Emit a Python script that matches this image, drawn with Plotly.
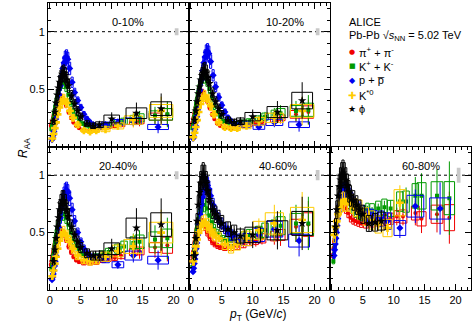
import plotly.graph_objects as go
from plotly.subplots import make_subplots

# ---------------- data ----------------
centralities = ["0-10%", "10-20%", "20-40%", "40-60%", "60-80%"]
norm_unc = [0.03, 0.03, 0.035, 0.045, 0.065]

pi_pt = [0.15, 0.25, 0.35, 0.45, 0.55, 0.65, 0.75, 0.85, 0.95, 1.1, 1.3, 1.5, 1.7, 1.9, 2.2, 2.6,
         3.0, 3.4, 3.8, 4.25, 4.75, 5.5, 6.5, 7.5, 8.5, 9.5, 10.5, 11.5, 13.5, 14.5, 17.0, 19.0]
pi_raa = [
    [0.18, 0.20, 0.22, 0.24, 0.26, 0.28, 0.30, 0.32, 0.34, 0.37, 0.40, 0.42, 0.43, 0.43, 0.41, 0.36,
     0.30, 0.25, 0.21, 0.18, 0.16, 0.145, 0.14, 0.145, 0.16, 0.17, 0.18, 0.19, 0.21, 0.22, 0.26, 0.28],
    [0.19, 0.21, 0.24, 0.26, 0.29, 0.31, 0.34, 0.36, 0.38, 0.41, 0.44, 0.46, 0.47, 0.47, 0.45, 0.40,
     0.34, 0.28, 0.24, 0.20, 0.18, 0.165, 0.16, 0.165, 0.18, 0.19, 0.20, 0.21, 0.23, 0.25, 0.28, 0.30],
    [0.22, 0.25, 0.28, 0.31, 0.34, 0.37, 0.40, 0.42, 0.44, 0.47, 0.50, 0.51, 0.52, 0.51, 0.49, 0.44,
     0.38, 0.33, 0.29, 0.26, 0.245, 0.235, 0.235, 0.24, 0.26, 0.27, 0.28, 0.30, 0.33, 0.34, 0.37, 0.39],
    [0.25, 0.29, 0.33, 0.37, 0.41, 0.45, 0.48, 0.51, 0.53, 0.56, 0.58, 0.59, 0.59, 0.58, 0.55, 0.50,
     0.46, 0.42, 0.40, 0.385, 0.375, 0.37, 0.37, 0.38, 0.40, 0.42, 0.43, 0.45, 0.47, 0.48, 0.55, 0.57],
    [0.30, 0.36, 0.42, 0.48, 0.53, 0.58, 0.62, 0.66, 0.69, 0.72, 0.75, 0.76, 0.76, 0.74, 0.71, 0.67,
     0.63, 0.61, 0.60, 0.59, 0.58, 0.58, 0.59, 0.60, 0.61, 0.62, 0.64, 0.64, 0.67, 0.62, 0.66, 0.63],
]
pi_stat = [0.005, 0.005, 0.005, 0.005, 0.005, 0.005, 0.005, 0.005, 0.005, 0.005, 0.005, 0.005, 0.005,
           0.005, 0.005, 0.005, 0.006, 0.006, 0.006, 0.008, 0.008, 0.01, 0.01, 0.012, 0.02, 0.02, 0.03,
           0.03, 0.04, 0.05, 0.06, 0.09]
pi_syst = [0.07, 0.06, 0.06, 0.06, 0.06, 0.06, 0.06, 0.06, 0.06, 0.06, 0.06, 0.06, 0.06, 0.06, 0.06,
           0.06, 0.06, 0.06, 0.06, 0.06, 0.06, 0.07, 0.07, 0.07, 0.08, 0.08, 0.08, 0.09, 0.09, 0.10,
           0.12, 0.18]

k_pt = [0.25, 0.35, 0.45, 0.55, 0.65, 0.75, 0.85, 0.95, 1.1, 1.3, 1.5, 1.7, 1.9, 2.2, 2.6, 3.0,
        3.4, 3.8, 4.25, 4.75, 5.25, 5.75, 6.5, 7.5, 8.5, 9.5, 11.0, 12.0, 13.5, 14.5, 17.0, 19.0]
k_raa = [
    [0.15, 0.18, 0.21, 0.24, 0.28, 0.31, 0.34, 0.37, 0.41, 0.46, 0.50, 0.53, 0.55, 0.55, 0.52, 0.45,
     0.38, 0.31, 0.26, 0.22, 0.20, 0.185, 0.175, 0.17, 0.18, 0.19, 0.21, 0.22, 0.24, 0.25, 0.27, 0.28],
    [0.16, 0.19, 0.22, 0.26, 0.30, 0.33, 0.37, 0.40, 0.45, 0.50, 0.55, 0.58, 0.60, 0.60, 0.57, 0.50,
     0.42, 0.35, 0.29, 0.25, 0.22, 0.21, 0.20, 0.20, 0.21, 0.22, 0.24, 0.26, 0.28, 0.29, 0.31, 0.32],
    [0.18, 0.22, 0.26, 0.30, 0.34, 0.38, 0.42, 0.46, 0.51, 0.56, 0.61, 0.64, 0.66, 0.66, 0.63, 0.57,
     0.50, 0.43, 0.38, 0.34, 0.31, 0.29, 0.28, 0.29, 0.31, 0.33, 0.36, 0.38, 0.41, 0.42, 0.44, 0.45],
    [0.20, 0.25, 0.30, 0.35, 0.40, 0.45, 0.49, 0.53, 0.58, 0.64, 0.69, 0.72, 0.74, 0.74, 0.71, 0.65,
     0.59, 0.53, 0.49, 0.46, 0.44, 0.43, 0.43, 0.44, 0.46, 0.48, 0.50, 0.52, 0.54, 0.56, 0.58, 0.58],
    [0.25, 0.31, 0.37, 0.43, 0.49, 0.55, 0.60, 0.65, 0.71, 0.77, 0.82, 0.85, 0.86, 0.85, 0.81, 0.76,
     0.72, 0.69, 0.67, 0.66, 0.68, 0.70, 0.69, 0.71, 0.72, 0.71, 0.77, 0.77, 0.82, 0.82, 0.82, 0.80],
]
k_stat = [0.005, 0.005, 0.005, 0.005, 0.005, 0.005, 0.005, 0.005, 0.005, 0.005, 0.005, 0.005, 0.005,
          0.005, 0.006, 0.006, 0.006, 0.008, 0.008, 0.01, 0.01, 0.012, 0.012, 0.015, 0.02, 0.025,
          0.03, 0.04, 0.05, 0.06, 0.07, 0.1]
k_syst = [0.09, 0.08, 0.08, 0.08, 0.08, 0.08, 0.08, 0.08, 0.08, 0.08, 0.08, 0.08, 0.08, 0.08, 0.08,
          0.08, 0.08, 0.08, 0.08, 0.08, 0.08, 0.08, 0.09, 0.09, 0.10, 0.10, 0.11, 0.12, 0.13, 0.14,
          0.15, 0.18]

p_pt = [0.35, 0.45, 0.55, 0.65, 0.75, 0.85, 0.95, 1.1, 1.3, 1.5, 1.7, 1.9, 2.1, 2.3, 2.5, 2.7,
        2.9, 3.2, 3.6, 4.0, 4.5, 5.0, 5.5, 6.0, 6.5, 7.0, 8.0, 9.0, 11.0, 13.5, 17.5]
p_raa = [
    [0.06, 0.08, 0.10, 0.13, 0.16, 0.20, 0.24, 0.29, 0.37, 0.45, 0.53, 0.61, 0.68, 0.73, 0.77, 0.78,
     0.76, 0.68, 0.56, 0.47, 0.40, 0.34, 0.28, 0.24, 0.21, 0.19, 0.17, 0.19, 0.21, 0.22, 0.17],
    [0.07, 0.09, 0.12, 0.15, 0.18, 0.22, 0.26, 0.32, 0.40, 0.49, 0.58, 0.66, 0.73, 0.78, 0.82, 0.83,
     0.81, 0.74, 0.62, 0.52, 0.43, 0.36, 0.30, 0.25, 0.22, 0.20, 0.19, 0.19, 0.17, 0.21, 0.19],
    [0.09, 0.11, 0.14, 0.17, 0.21, 0.25, 0.30, 0.36, 0.45, 0.54, 0.63, 0.71, 0.78, 0.83, 0.86, 0.87,
     0.85, 0.80, 0.70, 0.60, 0.50, 0.42, 0.36, 0.32, 0.29, 0.28, 0.28, 0.27, 0.22, 0.30, 0.26],
    [0.16, 0.19, 0.23, 0.27, 0.31, 0.36, 0.41, 0.48, 0.57, 0.66, 0.74, 0.81, 0.87, 0.90, 0.92, 0.91,
     0.88, 0.82, 0.74, 0.67, 0.62, 0.58, 0.54, 0.51, 0.48, 0.46, 0.44, 0.44, 0.48, 0.53, 0.43],
    [0.30, 0.35, 0.40, 0.45, 0.50, 0.56, 0.62, 0.68, 0.75, 0.80, 0.84, 0.86, 0.87, 0.87, 0.86, 0.84,
     0.82, 0.79, 0.75, 0.73, 0.71, 0.68, 0.66, 0.65, 0.64, 0.63, 0.62, 0.60, 0.54, 0.73, 0.71],
]
p_stat = [0.005, 0.005, 0.005, 0.005, 0.005, 0.005, 0.005, 0.005, 0.005, 0.005, 0.005, 0.005, 0.005,
          0.005, 0.005, 0.005, 0.006, 0.006, 0.006, 0.008, 0.008, 0.01, 0.01, 0.012, 0.015, 0.02,
          0.02, 0.03, 0.04, 0.05, 0.08]
p_syst = [0.09, 0.08, 0.08, 0.08, 0.08, 0.08, 0.08, 0.08, 0.08, 0.08, 0.08, 0.08, 0.08, 0.08, 0.08,
          0.08, 0.08, 0.08, 0.08, 0.08, 0.08, 0.08, 0.09, 0.09, 0.10, 0.10, 0.11, 0.12, 0.12, 0.13,
          0.13]

ks_pt = [0.4, 0.6, 0.8, 1.0, 1.25, 1.55, 1.85, 2.25, 2.75, 3.25, 3.75, 4.5, 5.5, 6.5, 7.5, 9.0,
         11.0, 13.5, 18.0]
ks_raa = [
    [0.07, 0.11, 0.16, 0.21, 0.28, 0.34, 0.39, 0.41, 0.38, 0.31, 0.25, 0.19, 0.14, 0.13, 0.14, 0.15,
     0.18, 0.23, 0.31],
    [0.08, 0.12, 0.17, 0.23, 0.30, 0.37, 0.42, 0.44, 0.41, 0.35, 0.28, 0.21, 0.17, 0.16, 0.16, 0.18,
     0.22, 0.25, 0.31],
    [0.12, 0.17, 0.23, 0.29, 0.36, 0.43, 0.48, 0.50, 0.47, 0.42, 0.36, 0.30, 0.26, 0.25, 0.26, 0.29,
     0.34, 0.38, 0.50],
    [0.25, 0.32, 0.38, 0.44, 0.50, 0.55, 0.58, 0.59, 0.56, 0.52, 0.48, 0.45, 0.40, 0.37, 0.40, 0.45,
     0.52, 0.58, 0.61],
    [0.48, 0.55, 0.60, 0.66, 0.72, 0.76, 0.77, 0.77, 0.77, 0.75, 0.72, 0.70, 0.64, 0.61, 0.57, 0.54,
     0.76, None, None],
]
ks_stat = [0.01, 0.01, 0.01, 0.01, 0.01, 0.01, 0.01, 0.01, 0.012, 0.012, 0.015, 0.015, 0.02, 0.02,
           0.025, 0.03, 0.05, 0.07, 0.1]
ks_syst = [0.14, 0.12, 0.12, 0.11, 0.11, 0.11, 0.11, 0.11, 0.11, 0.11, 0.11, 0.12, 0.12, 0.13, 0.13,
           0.14, 0.15, 0.16, 0.18]

phi_pt = [0.6, 0.8, 1.0, 1.2, 1.4, 1.6, 1.8, 2.0, 2.25, 2.5, 2.75, 3.0, 3.5, 4.0, 4.5, 5.0, 6.0,
          7.0, 8.0, 10.0, 14.0, 18.0]
phi_raa = [
    [0.22, 0.30, 0.38, 0.45, 0.51, 0.56, 0.60, 0.63, 0.64, 0.62, 0.58, 0.53, 0.44, 0.37, 0.31, 0.26,
     0.20, 0.18, 0.19, 0.24, 0.29, 0.33],
    [0.23, 0.31, 0.39, 0.46, 0.52, 0.58, 0.62, 0.65, 0.66, 0.64, 0.60, 0.55, 0.46, 0.39, 0.33, 0.28,
     0.23, 0.21, 0.22, 0.26, 0.30, 0.40],
    [0.25, 0.35, 0.45, 0.55, 0.63, 0.70, 0.75, 0.78, 0.78, 0.75, 0.70, 0.64, 0.55, 0.48, 0.42, 0.37,
     0.32, 0.30, 0.30, 0.36, 0.54, 0.57],
    [0.30, 0.45, 0.60, 0.74, 0.85, 0.93, 0.98, 1.00, 0.98, 0.93, 0.86, 0.79, 0.70, 0.66, 0.62, 0.58,
     0.53, 0.50, 0.47, 0.48, 0.52, 0.58],
    [0.55, 0.70, 0.82, 0.90, 0.96, 1.00, 1.02, 1.00, 0.96, 0.91, 0.86, 0.82, 0.78, 0.74, 0.70, 0.66,
     0.58, 0.59, 0.60, None, None, None],
]
phi_stat = [0.02, 0.015, 0.015, 0.015, 0.015, 0.015, 0.015, 0.015, 0.015, 0.015, 0.015, 0.015, 0.02,
            0.02, 0.02, 0.025, 0.03, 0.03, 0.04, 0.06, 0.08, 0.1]
phi_syst = [0.13, 0.11, 0.11, 0.11, 0.11, 0.11, 0.11, 0.11, 0.11, 0.11, 0.11, 0.11, 0.11, 0.11,
            0.12, 0.12, 0.12, 0.13, 0.13, 0.14, 0.16, 0.18]

species_names = ["π<sup>+</sup> + π<sup>-</sup>", "K<sup>+</sup> + K<sup>-</sup>",
                 "p + p\u0305", "K<sup>*0</sup>", "ϕ"]

# ---------------- style ----------------
FONT = "Liberation Sans, Arial, sans-serif"
species = [
    dict(pt=pi_pt, raa=pi_raa, stat=pi_stat, syst=pi_syst, color="#f00000", symbol="circle", size=4),
    dict(pt=k_pt, raa=k_raa, stat=k_stat, syst=k_syst, color="#009a00", symbol="square", size=4),
    dict(pt=p_pt, raa=p_raa, stat=p_stat, syst=p_syst, color="#0000f0", symbol="diamond", size=5.5),
    dict(pt=ks_pt, raa=ks_raa, stat=ks_stat, syst=ks_syst, color="#ffcc00", symbol="cross", size=6.5),
    dict(pt=phi_pt, raa=phi_raa, stat=phi_stat, syst=phi_syst, color="#000000", symbol="star", size=6.5),
]
panels = [(1, 1), (1, 2), (2, 1), (2, 2), (2, 3)]

fig = make_subplots(rows=2, cols=3, horizontal_spacing=0, vertical_spacing=0)


def half_widths(pt):
    out = []
    n = len(pt)
    for i in range(n):
        if i == 0:
            d = pt[1] - pt[0]
        elif i == n - 1:
            d = pt[-1] - pt[-2]
        else:
            d = (pt[i + 1] - pt[i - 1]) / 2
        out.append(max(0.42 * d, 0.17))
    return out


for sp in species:
    hw = half_widths(sp["pt"])
    for ci, (r, c) in enumerate(panels):
        vals = sp["raa"][ci]
        bx, by, px, py, pe = [], [], [], [], []
        for x, y, w, st, sy in zip(sp["pt"], vals, hw, sp["stat"], sp["syst"]):
            if y is None:
                continue
            s = sy * y
            bx += [x - w, x + w, x + w, x - w, x - w, None]
            by += [y - s, y - s, y + s, y + s, y - s, None]
            px.append(x)
            py.append(y)
            pe.append(max(st * y * 4, 0.004))
        fig.add_trace(go.Scatter(x=bx, y=by, mode="lines", line=dict(color=sp["color"], width=1),
                                 hoverinfo="skip", showlegend=False), row=r, col=c)
        fig.add_trace(go.Scatter(x=px, y=py, mode="markers",
                                 marker=dict(symbol=sp["symbol"], size=sp["size"], color=sp["color"],
                                             line=dict(width=0)),
                                 error_y=dict(type="data", array=pe, color=sp["color"], thickness=1, width=0),
                                 showlegend=False), row=r, col=c)

axis_common = dict(showline=True, linecolor="black", linewidth=1, mirror="allticks",
                   ticks="inside", ticklen=6, tickcolor="black", showgrid=False, zeroline=False,
                   tickfont=dict(family=FONT, size=11, color="black"))
for i in range(1, 7):
    r = 1 if i <= 3 else 2
    c = (i - 1) % 3 + 1
    fig.update_xaxes(range=[-0.3, 22.5], dtick=5, tick0=0,
                     minor=dict(ticks="inside", ticklen=3, dtick=1, tick0=0, tickcolor="black"),
                     showticklabels=(r == 2), row=r, col=c, **axis_common)
    fig.update_yaxes(range=[0, 1.25], tickmode="array", tickvals=[0.5, 1], ticktext=["0.5", "1"],
                     minor=dict(ticks="inside", ticklen=3, tickmode="linear", dtick=0.1, tick0=0,
                                tickcolor="black"),
                     showticklabels=(c == 1), row=r, col=c, **axis_common)

axis_ids = {(1, 1): "", (1, 2): "2", (1, 3): "3", (2, 1): "4", (2, 2): "5", (2, 3): "6"}
shapes = []
for ci, (r, c) in enumerate(panels):
    a = axis_ids[(r, c)]
    shapes.append(dict(type="line", xref=f"x{a} domain", yref=f"y{a}", x0=0, x1=1, y0=1, y1=1,
                       line=dict(color="black", width=1, dash="3px,3px")))
    shapes.append(dict(type="rect", xref=f"x{a}", yref=f"y{a}", x0=20.2, x1=20.8,
                       y0=1 - norm_unc[ci], y1=1 + norm_unc[ci],
                       fillcolor="#c8c8c8", line=dict(width=0)))


def px2paper(x, y):
    return (x - 48) / 423, (290 - y) / 287


annotations = []
label_pos = [(127.5, 22), (285, 22), (118, 166), (278, 166), (420.5, 166)]
for name, (lx, ly) in zip(centralities, label_pos):
    x, y = px2paper(lx, ly)
    annotations.append(dict(text=name, x=x, y=y, xref="paper", yref="paper", showarrow=False,
                            xanchor="center", yanchor="middle",
                            font=dict(family=FONT, size=11, color="black")))

x, y = px2paper(347, 22)
annotations.append(dict(text="ALICE", x=x, y=y, xref="paper", yref="paper", showarrow=False,
                        xanchor="left", yanchor="middle", font=dict(family=FONT, size=11, color="black")))
x, y = px2paper(347, 36)
annotations.append(dict(text="Pb-Pb √<i>s</i><sub>NN</sub> = 5.02 TeV", x=x, y=y, xref="paper",
                        yref="paper", showarrow=False, xanchor="left", yanchor="middle",
                        font=dict(family=FONT, size=11, color="black")))
glyphs = [("●", 7), ("■", 7), ("◆", 8), ("✚", 10), ("★", 9)]
rows_y = [52, 66, 80, 95, 109]
for sp, name, (g, gs), ry in zip(species, species_names, glyphs, rows_y):
    x, y = px2paper(352, ry)
    annotations.append(dict(text=g, x=x, y=y, xref="paper", yref="paper", showarrow=False,
                            xanchor="center", yanchor="middle",
                            font=dict(family="DejaVu Sans", size=gs, color=sp["color"])))
    x, y = px2paper(357, ry)
    annotations.append(dict(text=name, x=x, y=y, xref="paper", yref="paper", showarrow=False,
                            xanchor="left", yanchor="middle",
                            font=dict(family=FONT, size=11, color="black")))

x, y = px2paper(24, 148)
annotations.append(dict(text="<i>R</i><sub>AA</sub>", x=x, y=y, xref="paper", yref="paper",
                        showarrow=False, textangle=-90, xanchor="center", yanchor="middle",
                        font=dict(family=FONT, size=12, color="black")))
x, y = px2paper(258, 315)
annotations.append(dict(text="<i>p</i><sub>T</sub> (GeV/<i>c</i>)", x=x, y=y, xref="paper",
                        yref="paper", showarrow=False, xanchor="center", yanchor="middle",
                        font=dict(family=FONT, size=12, color="black")))

fig.update_layout(width=474, height=326, margin=dict(l=48, r=3, t=3, b=36),
                  paper_bgcolor="white", plot_bgcolor="white", showlegend=False,
                  shapes=shapes, annotations=annotations)
fig.write_html("out.html")
